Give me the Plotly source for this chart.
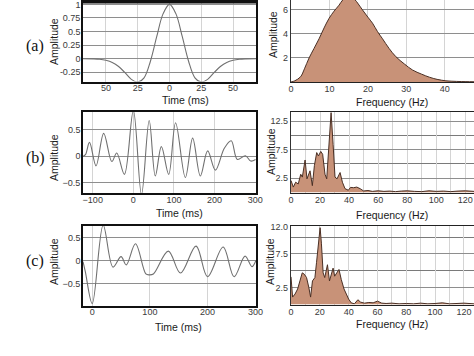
import plotly.graph_objects as go

# ---------------- data ----------------
# (a) wavelet
wav_t = [-68, -60, -55, -50, -45, -40, -35, -30, -25, -20, -15, -10, -5, 0,
         5, 10, 15, 20, 25, 30, 35, 40, 45, 50, 55, 60, 68]
wav_a = [0.0, -0.003, -0.01, -0.03, -0.07, -0.144, -0.258, -0.38, -0.43, -0.352, -0.047, 0.409, 0.829, 1.0,
         0.829, 0.409, -0.047, -0.352, -0.43, -0.38, -0.258, -0.144, -0.07, -0.03, -0.01, -0.003, 0.0]
# (a) wavelet spectrum
spa_f = [0, 1, 2.5, 3.5, 4.7, 6, 7.3, 8.6, 9.9, 11.2, 12.5, 13.5, 15, 16.5, 17.5, 18.6, 20, 21.2,
         22.5, 23.8, 25.5, 27.3, 29.5, 31.6, 34, 36, 38, 40.3, 43, 45.5, 47.6]
spa_a = [0, 0.1, 0.44, 1.1, 2.0, 2.8, 3.6, 4.5, 5.3, 5.9, 6.4, 6.85, 7.2, 6.9, 6.5, 6.0, 5.4, 4.9,
         4.2, 3.6, 2.8, 2.1, 1.5, 1.0, 0.65, 0.4, 0.22, 0.1, 0.05, 0.03, 0.02]
# (b) trace
trb_t = [-124, -118, -108, -92, -73, -53, -41, -22, 0, 20, 39, 54, 69, 87, 104, 128, 146, 165,
         183, 202, 224, 241, 256, 276, 289, 301]
trb_a = [0.0, 0.03, 0.26, -0.18, 0.43, -0.10, 0.06, -0.34, 0.86, -0.72, 0.67, -0.37, 0.18, -0.34,
         0.63, -0.40, 0.34, -0.37, 0.10, -0.26, 0.15, 0.29, -0.06, 0.01, -0.09, -0.06]
# (b) spectrum
spb_f = [0, 1.6, 3.2, 5, 6.7, 7.8, 9.7, 11, 13.1, 14.7, 16.1, 17.7, 18.9, 20.5, 21.8, 23.4, 24.6,
         26.2, 27.6, 29, 30.3, 31.7, 33.8, 35.4, 37.2, 39.5, 41, 43, 45.3, 47.6, 50, 53, 56, 60, 64,
         68, 72, 76, 80, 85, 90, 95, 100, 105, 110, 115, 120, 126]
spb_a = [2.1, 0.95, 1.8, 1.5, 3.2, 2.7, 5.7, 2.4, 3.8, 1.2, 4.7, 7.0, 6.4, 7.2, 6.7, 3.2, 2.4,
         8.4, 14.0, 8.4, 2.7, 2.4, 3.5, 1.8, 0.67, 0.4, 0.9, 0.84, 0.95, 0.67, 0.27, 0.35, 0.2, 0.3, 0.2,
         0.25, 0.15, 0.25, 0.3, 0.2, 0.15, 0.3, 0.2, 0.25, 0.15, 0.25, 0.3, 0.2]
# (c) trace
trc_t = [-16, -12, 0, 19, 36, 50, 59, 75, 93, 99, 106, 132, 153, 180, 200, 227, 246, 265, 277, 284]
trc_a = [-0.02, -0.24, -0.94, 0.78, -0.14, 0.09, -0.09, 0.37, -0.29, -0.31, -0.29, 0.21, -0.27,
         0.32, -0.35, 0.30, -0.35, 0.10, -0.13, 0.01]
# (c) spectrum
spc_f = [0, 1.1, 2.8, 4.6, 6.2, 7.8, 9.2, 10.8, 12.4, 13.6, 14.9, 16.6, 17.7, 19.3, 20.2, 21.1, 22.3,
         23.4, 25.3, 26.7, 28, 29.2, 30.3, 32, 33.3, 34.9, 36.8, 38.4, 40, 41.8, 44, 46.4, 48.3, 51, 54,
         57, 60, 63, 66, 70, 75, 80, 85, 90, 95, 100, 105, 110, 115, 120, 127]
spc_a = [4.1, 1.1, 1.55, 2.3, 3.5, 4.7, 4.5, 4.0, 2.5, 1.1, 3.5, 4.0, 6.2, 10.0, 11.4, 9.1, 4.7,
         4.0, 5.9, 3.5, 4.5, 5.4, 4.2, 4.7, 5.2, 3.7, 2.3, 1.55, 0.8, 0.25, 0.1, 0.7, 0.35, 0.2, 0.3,
         0.25, 0.5, 0.2, 0.15, 0.2, 0.1, 0.15, 0.1, 0.2, 0.1, 0.15, 0.25, 0.1, 0.15, 0.2, 0.1]

# tick labels
a_time_vals = [-50, -25, 0, 25, 50]
a_time_text = ["50", "25", "0", "25", "50"]
a_amp_vals = [-0.25, 0, 0.25, 0.5, 0.75, 1]
a_amp_text = ["-0.25", "0", "0.25", "0.5", "0.75", "1"]
a_freq_vals = [0, 10, 20, 30, 40]
a_spec_vals = [2, 4, 6]
b_time_vals = [-100, 0, 100, 200, 300]
bc_amp_vals = [-0.5, 0, 0.5]
bc_freq_vals = [0, 20, 40, 60, 80, 100, 120]
b_spec_vals = [2.5, 7.5, 12.5]
c_time_vals = [0, 100, 200, 283]
c_time_text = ["0", "100", "200", "300"]
c_spec_vals = [2.5, 7.5, 11.55]
c_spec_text = ["2.5", "7.5", "12.0"]

W, H = 474, 356
def px(x): return x / W
def py(y): return 1 - y / H

TRACE = dict(color="#707070", width=1.1, shape="spline", smoothing=1.0)
FILL = "rgb(200,146,120)"
SLINE = dict(color="#4a2f24", width=1)

fig = go.Figure()
fig.add_trace(go.Scatter(x=wav_t, y=wav_a, mode="lines", line=TRACE, xaxis="x", yaxis="y"))
fig.add_trace(go.Scatter(x=spa_f, y=spa_a, mode="lines", fill="tozeroy", fillcolor=FILL,
                         line=dict(SLINE, shape="spline"), xaxis="x2", yaxis="y2"))
fig.add_trace(go.Scatter(x=trb_t, y=trb_a, mode="lines", line=TRACE, xaxis="x3", yaxis="y3"))
fig.add_trace(go.Scatter(x=spb_f, y=spb_a, mode="lines", fill="tozeroy", fillcolor=FILL,
                         line=SLINE, xaxis="x4", yaxis="y4"))
fig.add_trace(go.Scatter(x=trc_t, y=trc_a, mode="lines", line=TRACE, xaxis="x5", yaxis="y5"))
fig.add_trace(go.Scatter(x=spc_f, y=spc_a, mode="lines", fill="tozeroy", fillcolor=FILL,
                         line=SLINE, xaxis="x6", yaxis="y6"))

TF = dict(family="Liberation Sans, Arial", size=9, color="#3a3a3a")
LX = [px(83), px(256)]
RX = [px(291), 1.0]
AY = [py(81.5), 1.0]
BY = [py(193), py(111.5)]
CY = [py(305.5), py(226)]
COMMON = dict(zeroline=False, ticks="", tickfont=TF, automargin=False, ticklabeloverflow="allow")

def left_x(dom, anchor, rng, vals, text=None):
    d = dict(domain=dom, anchor=anchor, range=rng, tickvals=vals, showline=True, linecolor="#111",
             linewidth=1.6, mirror=True, showgrid=True, gridcolor="#d4d4d4", gridwidth=1,
             ticklabelstandoff=-3, **COMMON)
    if text: d["ticktext"] = text
    return d

def left_y(dom, anchor, rng, vals, text=None):
    d = dict(domain=dom, anchor=anchor, range=rng, tickvals=vals, showline=True, linecolor="#111",
             linewidth=1.6, mirror=True, showgrid=True, gridcolor="#8e8e8e", gridwidth=1.4,
             ticklabelstandoff=-1, **COMMON)
    if text: d["ticktext"] = text
    return d

def right_x(dom, anchor, rng, vals, minor_vals=None, mirror=True):
    d = dict(domain=dom, anchor=anchor, range=rng, tickvals=vals, showline=True, linecolor="#222",
             linewidth=1.4, mirror=mirror, showgrid=True, gridcolor="#d4d4d4", gridwidth=1,
             ticklabelstandoff=-2, **COMMON)
    if minor_vals:
        d["minor"] = dict(tickvals=minor_vals, showgrid=True, gridcolor="#d4d4d4", gridwidth=1)
    return d

def right_y(dom, anchor, rng, vals, text=None, minor_vals=None):
    d = dict(domain=dom, anchor=anchor, range=rng, tickvals=vals, showline=True, linecolor="#333",
             linewidth=1.2, showgrid=True, gridcolor="#8e8e8e", gridwidth=1.3,
             ticklabelstandoff=0, **COMMON)
    if text: d["ticktext"] = text
    if minor_vals:
        d["minor"] = dict(tickvals=minor_vals, showgrid=True, gridcolor="#7a7a7a", gridwidth=1.3)
    return d

fig.update_layout(
    width=W, height=H, autosize=False, margin=dict(l=0, r=0, t=0, b=0, pad=0),
    paper_bgcolor="white", plot_bgcolor="white", showlegend=False,
    xaxis=left_x(LX, "y", [-68, 68], a_time_vals, a_time_text),
    yaxis=left_y(AY, "x", [-0.42, 1.08], a_amp_vals, a_amp_text),
    xaxis2=right_x(RX, "y2", [0, 47.6], a_freq_vals, mirror=False),
    yaxis2=right_y([py(82), 1.0], "x2", [0, 6.83], a_spec_vals),
    xaxis3=left_x(LX, "y3", [-124, 302], b_time_vals),
    yaxis3=left_y(BY, "x3", [-0.69, 0.84], bc_amp_vals),
    xaxis4=right_x(RX, "y4", [0, 126], bc_freq_vals, [10, 30, 50, 70, 90, 110]),
    yaxis4=right_y([py(192.5), py(111.5)], "x4", [0, 14.2], b_spec_vals, minor_vals=[5, 10]),
    xaxis5=left_x(LX, "y5", [-16, 284], c_time_vals, c_time_text),
    yaxis5=left_y(CY, "x5", [-0.98, 0.76], bc_amp_vals),
    xaxis6=right_x(RX, "y6", [0, 127], bc_freq_vals, [10, 30, 50, 70, 90, 110]),
    yaxis6=right_y([py(304.5), py(226)], "x6", [0, 11.65], c_spec_vals, c_spec_text, minor_vals=[5, 10]),
)

# thick top bar of panel (a)
fig.add_shape(type="rect", xref="paper", yref="paper", x0=px(83), x1=px(256), y0=py(3.5), y1=1,
              fillcolor="#111", line=dict(width=0), layer="above")

AF = dict(family="Liberation Sans, Arial", size=10.5, color="#1a1a1a")
ann = []
for txt, x, y in [("Time (ms)", 185, 100), ("Time (ms)", 179, 213), ("Time (ms)", 178, 327),
                  ("Frequency (Hz)", 392, 102), ("Frequency (Hz)", 392, 215), ("Frequency (Hz)", 392, 324)]:
    ann.append(dict(text=txt, x=px(x), y=py(y), xref="paper", yref="paper", showarrow=False,
                    font=AF, xanchor="center", yanchor="middle"))
for x, y in [(54, 42), (54, 158), (54, 262), (273, 35), (271, 152), (270, 262)]:
    ann.append(dict(text="Amplitude", x=px(x), y=py(y), xref="paper", yref="paper", showarrow=False,
                    font=AF, textangle=-90, xanchor="center", yanchor="middle"))
for txt, y in [("(a)", 46), ("(b)", 158), ("(c)", 261)]:
    ann.append(dict(text=txt, x=px(35), y=py(y), xref="paper", yref="paper", showarrow=False,
                    font=dict(family="Liberation Serif, Times New Roman", size=16, color="#111"),
                    xanchor="center", yanchor="middle"))
fig.update_layout(annotations=ann)

fig.write_html("out.html", config={"displayModeBar": False, "responsive": False},
               post_script="document.documentElement.style.overflow='hidden';document.body.style.margin='0';document.body.style.overflow='hidden';")
